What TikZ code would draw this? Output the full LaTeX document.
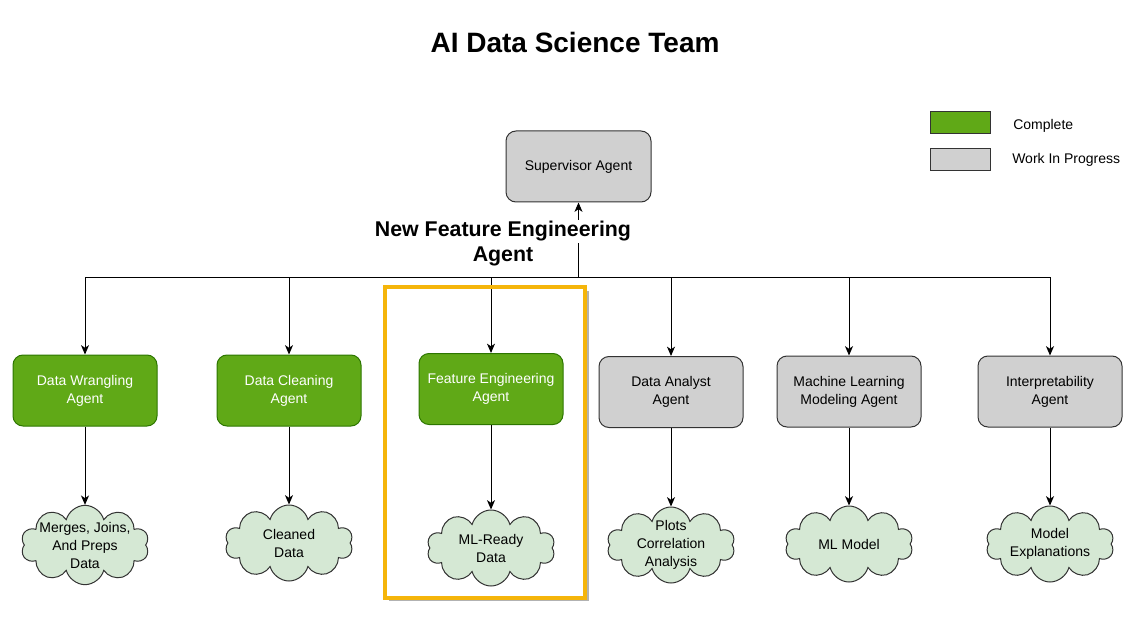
\documentclass[tikz,border=0pt]{standalone}
\usepackage{fontspec}
\setmainfont{Liberation Sans}
\usetikzlibrary{shapes.symbols,arrows.meta}
\definecolor{agreen}{HTML}{60A917}
\definecolor{agreenb}{HTML}{2D7600}
\definecolor{agray}{HTML}{D0D0D0}
\definecolor{cloudg}{HTML}{D5E8D4}
\definecolor{gold}{HTML}{F5B50A}
\newcommand\nodefont{\fontsize{10.5}{13.5}\selectfont}
\begin{document}
\begin{tikzpicture}[x=0.75pt,y=-0.75pt,
  agent/.style={rounded corners=7.5pt, minimum width=108pt, minimum height=53.25pt, align=center, font=\nodefont, line width=0.75pt, inner sep=0pt},
  done/.style={agent, fill=agreen, draw=agreenb, text=white},
  wip/.style={agent, fill=agray, draw=black!80},
  data/.style={cloud, cloud puffs=10, cloud ignores aspect, minimum width=96pt, minimum height=57pt, fill=cloudg, draw=black!80, line width=0.75pt, align=center, inner sep=-3pt, font=\nodefont},
  arr/.style={-{Stealth[length=7pt,width=6pt,inset=2pt]}, line width=0.75pt},
  line/.style={line width=0.75pt},
  legtext/.style={anchor=west, font=\nodefont, inner sep=0pt}
]
\useasboundingbox (0,0) rectangle (1142,631);

% title
\node[font=\bfseries\fontsize{21}{25}\selectfont] (title) at (575,42) {AI Data Science Team};

% legend
\node[draw=black!80, fill=agreen, line width=0.75pt, minimum width=45pt, minimum height=16.5pt, inner sep=0pt] (lg1) at (960,123) {};
\node[draw=black!80, fill=agray, line width=0.75pt, minimum width=45pt, minimum height=17pt, inner sep=0pt] (lg2) at (960,159.5) {};
\node[legtext] (lt1) at (1013,126) {Complete};
\node[legtext] (lt2) at (1012,160) {Work In Progress};

% supervisor
\node[wip, minimum width=108.75pt] (sup) at (578.5,166.5) {Supervisor Agent};

% agents
\node[done] (dw) at (85,390.5) {Data Wrangling\\Agent};
\node[done] (dc) at (289,390.5) {Data Cleaning\\Agent};
\node[done] (fe) at (491,389) {Feature Engineering\\Agent};
\node[wip]  (da) at (671,392) {Data Analyst\\Agent};
\node[wip]  (ml) at (849,391.5) {Machine Learning\\Modeling Agent};
\node[wip]  (ia) at (1050,391.5) {Interpretability\\Agent};

% outputs
\node[data] (c1) at (85,545) {Merges, Joins,\\And Preps\\Data};
\node[data] (c2) at (289,543) {Cleaned\\Data};
\node[data] (c3) at (491,548) {ML-Ready\\Data};
\node[data] (c4) at (671,545) {Plots\\Correlation\\Analysis};
\node[data] (c5) at (849,544) {ML Model};
\node[data] (c6) at (1050,544) {Model\\Explanations};

% bus
\coordinate (j) at (578.5,277);
\draw[line] (dw.north |- j) -- (ia.north |- j);
\draw[arr] (j) -- (sup.south);
\foreach \n in {dw,dc,fe,da,ml,ia}{
  \draw[arr] (\n.north |- j) -- (\n.north);
}
\foreach \a/\b in {dw/c1,dc/c2,fe/c3,da/c4,ml/c5,ia/c6}{
  \draw[arr] (\a.south) -- (\b.north);
}

% label (white backing hides the line behind the text, as in the reference)
\node[align=center, font=\bfseries\fontsize{16}{18.75}\selectfont, inner sep=1pt, fill=white] (lbl) at (503,243.5)
  {New Feature Engineering\\Agent};
\coordinate (lblgap) at (578.5,243);
\draw[line] (j) -- (lblgap);

% highlight frame
\draw[black!30, line width=2pt] (588,291) -- (588,600) -- (389,600);
\draw[gold, line width=3pt] (385,287) rectangle (585,598);
\end{tikzpicture}
\end{document}
